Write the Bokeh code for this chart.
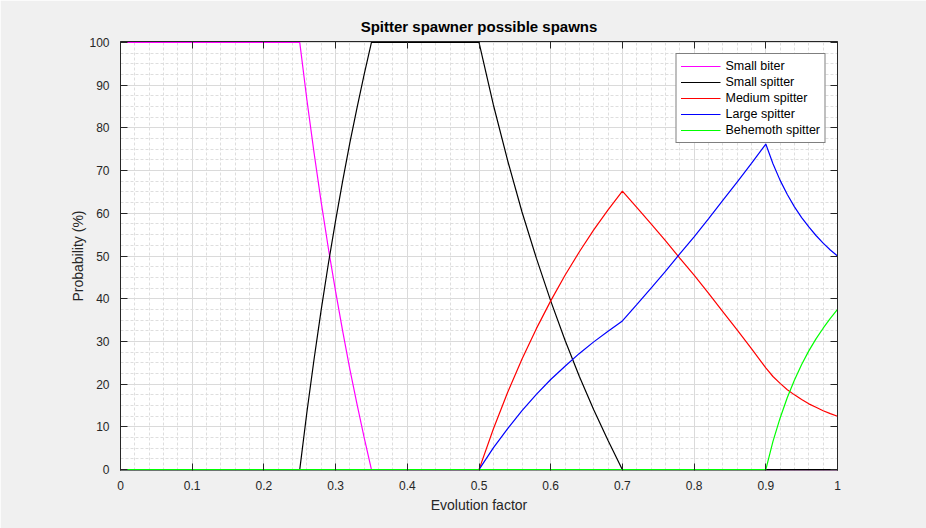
from bokeh.plotting import figure
from bokeh.models import FixedTicker, LinearAxis, Range1d, Legend, LegendItem, Grid, Span
from bokeh.embed import file_html
from bokeh.resources import INLINE

# ---- data ----
evolution = [0.00, 0.25, 0.26, 0.27, 0.28, 0.29, 0.30, 0.31, 0.32, 0.33, 0.34, 0.35,
             0.50, 0.52, 0.54, 0.56, 0.58, 0.60, 0.62, 0.64, 0.66, 0.68, 0.70,
             0.72, 0.74, 0.76, 0.78, 0.80, 0.82, 0.84, 0.86, 0.88, 0.90,
             0.91, 0.92, 0.93, 0.94, 0.95, 0.96, 0.97, 0.98, 0.99, 1.00]

small_biter = [100, 100, 86.5, 74.1, 62.5, 51.7, 41.7, 32.3, 23.4, 15.2, 7.4, 0,
               0, 0, 0, 0, 0, 0, 0, 0, 0, 0, 0,
               0, 0, 0, 0, 0, 0, 0, 0, 0, 0,
               0, 0, 0, 0, 0, 0, 0, 0, 0, 0]

small_spitter = [0, 0, 13.5, 25.9, 37.5, 48.3, 58.3, 67.7, 76.6, 84.8, 92.6, 100,
                 100, 85.4, 72.3, 60.3, 49.5, 39.5, 30.3, 21.8, 14.0, 6.8, 0,
                 0, 0, 0, 0, 0, 0, 0, 0, 0, 0,
                 0, 0, 0, 0, 0, 0, 0, 0, 0, 0]

medium_spitter = [0, 0, 0, 0, 0, 0, 0, 0, 0, 0, 0, 0,
                  0, 9.5, 18.1, 25.9, 33.0, 39.5, 45.5, 51.0, 56.1, 60.8, 65.2,
                  61.4, 57.5, 53.6, 49.5, 45.5, 41.3, 37.0, 32.7, 28.3, 23.8,
                  21.8, 20.2, 18.7, 17.5, 16.4, 15.4, 14.6, 13.8, 13.1, 12.5]

large_spitter = [0, 0, 0, 0, 0, 0, 0, 0, 0, 0, 0, 0,
                 0, 5.1, 9.6, 13.8, 17.6, 21.1, 24.2, 27.2, 29.9, 32.4, 34.8,
                 38.6, 42.5, 46.4, 50.5, 54.5, 58.7, 63.0, 67.3, 71.7, 76.2,
                 71.6, 67.7, 64.4, 61.5, 59.0, 56.8, 54.8, 53.0, 51.4, 50.0]

behemoth_spitter = [0, 0, 0, 0, 0, 0, 0, 0, 0, 0, 0, 0,
                    0, 0, 0, 0, 0, 0, 0, 0, 0, 0, 0,
                    0, 0, 0, 0, 0, 0, 0, 0, 0, 0,
                    6.6, 12.1, 16.9, 21.0, 24.6, 27.8, 30.6, 33.1, 35.4, 37.5]

series_names = ["Small biter", "Small spitter", "Medium spitter", "Large spitter", "Behemoth spitter"]
series_colors = ["#FF00FF", "#000000", "#FF0000", "#0000FF", "#00FF00"]

x_ticks = [0, 0.1, 0.2, 0.3, 0.4, 0.5, 0.6, 0.7, 0.8, 0.9, 1.0]
x_tick_labels = ["0", "0.1", "0.2", "0.3", "0.4", "0.5", "0.6", "0.7", "0.8", "0.9", "1"]
x_minor = [i / 50 for i in range(51)]
y_ticks = [0, 10, 20, 30, 40, 50, 60, 70, 80, 90, 100]
y_tick_labels = ["0", "10", "20", "30", "40", "50", "60", "70", "80", "90", "100"]
y_minor = [i * 2.5 for i in range(41)]

FONT = "Liberation Sans"
AX = "#262626"

p = figure(width=926, height=528, output_backend="svg", toolbar_location=None,
           x_range=Range1d(0, 1), y_range=Range1d(-0.2, 100.2),
           frame_width=717, frame_height=429,
           min_border_left=120, min_border_right=89, min_border_top=41, min_border_bottom=58,
           x_axis_type=None, y_axis_type=None)

p.border_fill_color = "#F0F0F0"
p.background_fill_color = "white"
p.outline_line_color = None

p.title.text = "Spitter spawner possible spawns"
p.title.align = "center"
p.title.text_font = FONT
p.title.text_font_size = "15px"
p.title.text_font_style = "bold"
p.title.text_color = "#000000"
p.title.standoff = 6

xt = FixedTicker(ticks=x_ticks, minor_ticks=x_minor)
yt = FixedTicker(ticks=y_ticks, minor_ticks=y_minor)

gx = Grid(dimension=0, ticker=xt, grid_line_color="#dadada", grid_line_width=1,
          minor_grid_line_color="#dedede", minor_grid_line_dash="3 2")
gy = Grid(dimension=1, ticker=yt, grid_line_color="#dadada", grid_line_width=1,
          minor_grid_line_color="#dedede", minor_grid_line_dash="3 2")
p.add_layout(gx)
p.add_layout(gy)

# bottom frame edge drawn beneath the data lines
p.add_layout(Span(location=-0.2, dimension="width", line_color=AX, line_width=2, level="underlay"))


def style_axis(ax):
    ax.axis_line_color = AX
    ax.major_tick_line_color = AX
    ax.major_tick_in = 7
    ax.major_tick_out = 0
    ax.minor_tick_line_color = None
    ax.major_label_text_font = FONT
    ax.major_label_text_font_size = "12px"
    ax.major_label_text_color = AX
    ax.axis_label_text_font = FONT
    ax.axis_label_text_font_size = "14px"
    ax.axis_label_text_font_style = "normal"
    ax.axis_label_text_color = AX


xb = LinearAxis(ticker=xt, axis_label="Evolution factor",
                major_label_overrides={v: l for v, l in zip(x_ticks, x_tick_labels)})
style_axis(xb)
xb.axis_line_color = None
xb.major_label_standoff = 6
xb.axis_label_standoff = 4
p.add_layout(xb, "below")

yl = LinearAxis(ticker=yt, axis_label="Probability (%)",
                major_label_overrides={v: l for v, l in zip(y_ticks, y_tick_labels)})
style_axis(yl)
yl.major_label_standoff = 7
yl.axis_label_standoff = 0
p.add_layout(yl, "left")

xtop = LinearAxis(ticker=xt)
style_axis(xtop)
xtop.major_label_text_font_size = "0px"
xtop.major_label_text_color = None
p.add_layout(xtop, "above")

yr = LinearAxis(ticker=yt)
style_axis(yr)
yr.major_label_text_font_size = "0px"
yr.major_label_text_color = None
p.add_layout(yr, "right")

all_series = [small_biter, small_spitter, medium_spitter, large_spitter, behemoth_spitter]
items = []
for name, col, ys in zip(series_names, series_colors, all_series):
    r = p.line(evolution, ys, line_color=col, line_width=1.2)
    items.append(LegendItem(label=name, renderers=[r]))

legend = Legend(items=items, location="top_right")
legend.margin = 12
legend.padding = 4
legend.spacing = 0
legend.glyph_width = 40
legend.glyph_height = 16
legend.label_height = 16
legend.label_standoff = 5
legend.label_text_font = FONT
legend.label_text_font_size = "12.5px"
legend.label_text_color = "#000000"
legend.border_line_color = "#000000"
legend.border_line_width = 1
legend.background_fill_color = "white"
legend.background_fill_alpha = 1.0
p.add_layout(legend)

open("out.html", "w").write(file_html(p, INLINE))
